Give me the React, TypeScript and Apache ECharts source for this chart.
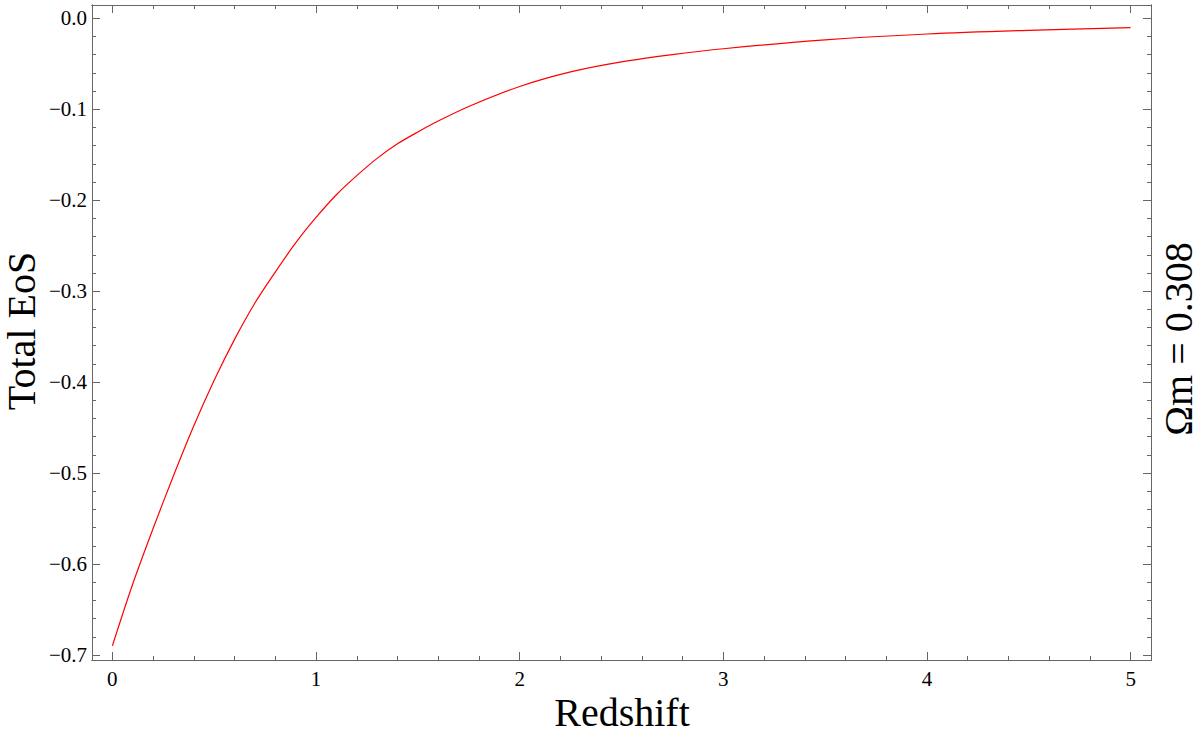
import React, { useEffect, useRef } from 'react';
import * as echarts from 'echarts';

// redshift samples and the total equation of state
const redshift = [
  0, 0.1, 0.2, 0.3, 0.4, 0.5, 0.6, 0.7, 0.8, 0.9, 1.0, 1.1, 1.2, 1.3, 1.4, 1.5,
  1.6, 1.75, 2.0, 2.25, 2.5, 2.75, 3.0, 3.5, 4.0, 4.5, 5.0,
];
const totalEoS = [
  -0.690, -0.622, -0.561, -0.503, -0.448, -0.398, -0.353, -0.313, -0.279, -0.247,
  -0.219, -0.194, -0.173, -0.154, -0.138, -0.125, -0.113, -0.097, -0.075, -0.059,
  -0.048, -0.040, -0.0335, -0.0238, -0.0173, -0.0132, -0.0103,
];

const xMajorTicks = [0, 1, 2, 3, 4, 5];
const yMajorTicks = [-0.7, -0.6, -0.5, -0.4, -0.3, -0.2, -0.1, 0];

const xTitle = 'Redshift';
const yTitle = 'Total EoS';
const sideNote = 'Ωm = 0.308';

const X_MIN = -0.1;
const X_MAX = 5.1;
const Y_MIN = -0.7055;
const Y_MAX = 0.0146;

const FONT = '"Liberation Serif", "Times New Roman", serif';
const FRAME = '#666666';

const xMinorTicks: number[] = [];
for (let i = 1; i < 25; i++) if (i % 5 !== 0) xMinorTicks.push(Math.round(i * 2) / 10);
const yMinorTicks: number[] = [];
for (let i = 1; i < 35; i++) if (i % 5 !== 0) yMinorTicks.push(-Math.round(i * 2) / 100);

const fmtY = (v: number) => (Math.abs(v) < 1e-9 ? '0.0' : '\u2212' + Math.abs(v).toFixed(1));

const xAxis = (position: string, len: number, ticks: number[], labels: boolean) => ({
  type: 'value',
  position,
  min: X_MIN,
  max: X_MAX,
  axisLine: { show: true, onZero: false, lineStyle: { color: FRAME, width: 1 } },
  axisTick: { show: true, inside: true, length: len, customValues: ticks, lineStyle: { color: FRAME, width: 1 } },
  axisLabel: {
    show: labels,
    customValues: ticks,
    margin: 8,
    fontFamily: FONT,
    fontSize: 21,
    color: '#000',
    formatter: (v: number) => String(Math.round(v)),
  },
  splitLine: { show: false },
});

const yAxis = (position: string, len: number, ticks: number[], labels: boolean) => ({
  type: 'value',
  position,
  min: Y_MIN,
  max: Y_MAX,
  axisLine: { show: true, onZero: false, lineStyle: { color: FRAME, width: 1 } },
  axisTick: { show: true, inside: true, length: len, customValues: ticks, lineStyle: { color: FRAME, width: 1 } },
  axisLabel: {
    show: labels,
    customValues: ticks,
    margin: 5,
    fontFamily: FONT,
    fontSize: 21,
    color: '#000',
    formatter: fmtY,
  },
  splitLine: { show: false },
});

// big serif title, centred on (x, y)
const title = (text: string, x: number, y: number, rotation: number) => ({
  type: 'text',
  x,
  y,
  rotation,
  style: {
    text,
    font: '40px ' + FONT,
    lineHeight: 30,
    fill: '#000',
    textAlign: 'center',
    textVerticalAlign: 'middle',
  },
});

const App: React.FC = () => {
  const chartRef = useRef<HTMLDivElement>(null);

  useEffect(() => {
    if (!chartRef.current) return;
    document.body.style.margin = '0';

    const chart = echarts.init(chartRef.current, null, { renderer: 'svg' });

    const options: any = {
      animation: false,
      backgroundColor: '#ffffff',
      grid: { left: 92, right: 49, top: 5, bottom: 73, outerBoundsMode: 'none' },
      xAxis: [
        xAxis('bottom', 8, xMajorTicks, true),
        xAxis('bottom', 4, xMinorTicks, false),
        xAxis('top', 8, xMajorTicks, false),
        xAxis('top', 4, xMinorTicks, false),
      ],
      yAxis: [
        yAxis('left', 8, yMajorTicks, true),
        yAxis('left', 4, yMinorTicks, false),
        yAxis('right', 8, yMajorTicks, false),
        yAxis('right', 4, yMinorTicks, false),
      ],
      graphic: [
        title(xTitle, 622, 712, 0),
        title(yTitle, 21, 331, Math.PI / 2),
        title(sideNote, 1178, 339, Math.PI / 2),
      ],
      series: [
        {
          type: 'line',
          xAxisIndex: 0,
          yAxisIndex: 0,
          data: redshift.map((x, i) => [x, totalEoS[i]]),
          showSymbol: false,
          smooth: 0.3,
          lineStyle: { color: '#ff0000', width: 1.2 },
        },
      ],
    };

    chart.setOption(options);

    return () => {
      chart.dispose();
    };
  }, []);

  return <div ref={chartRef} style={{ width: 1200, height: 733 }} />;
};

export default App;
